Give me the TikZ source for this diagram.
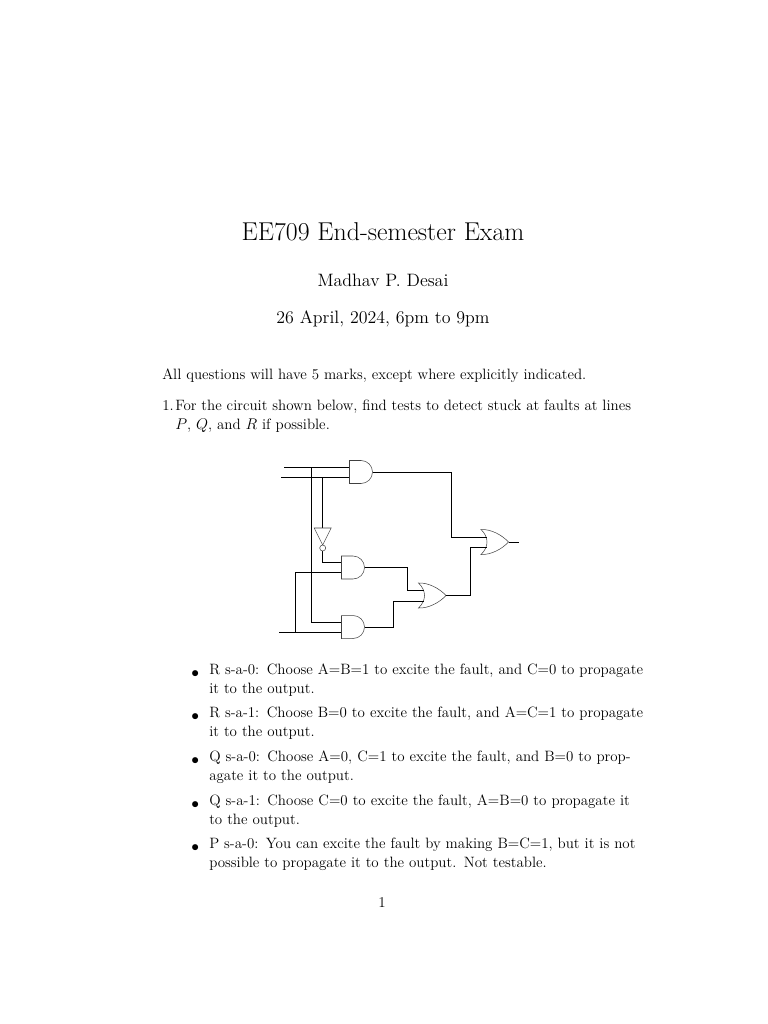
\documentclass[tikz,border=0pt]{standalone}
\newcommand{\bodyfont}{\fontsize{11.6}{14.4}\selectfont}
\newcommand{\fitline}[1]{\hbox to 324pt{#1}}
\tikzset{
  wire/.style={draw=black,line width=0.7pt,line join=miter},
  gateline/.style={draw=black!75,line width=0.4pt,fill=white},
  andgate/.pic={
    \path[gateline] (-11.5,-11.5) -- (0,-11.5) arc (-90:90:11.5) -- (-11.5,11.5) -- cycle;
    \coordinate (-in1) at (-11.5,-5);
    \coordinate (-in2) at (-11.5,5);
    \coordinate (-out) at (11.5,0);
  },
  orgate/.pic={
    \path[gateline] (0,-12.5) .. controls (10,-13) and (21,-7) .. (27.5,0) .. controls (21,7) and (10,13) .. (0,12.5) .. controls (8,5) and (8,-5) .. (0,-12.5) -- cycle;
    \coordinate (-in1) at (5.5,-5);
    \coordinate (-in2) at (5.5,5.5);
    \coordinate (-out) at (27.5,0);
  },
  invgate/.pic={
    \path[gateline] (-8.5,0) -- (8.5,0) -- (0,17) -- cycle;
    \path[gateline] (0,20) circle (3);
    \coordinate (-in) at (0,0);
    \coordinate (-out) at (0,23);
  },
  textline/.style={anchor=base west,inner sep=0pt,font=\bodyfont},
  bullettext/.style={anchor=north west,inner sep=0pt,text width=324pt,align=left,font=\bodyfont},
  centerline/.style={anchor=base,inner sep=0pt}
}
\begin{document}
\begin{tikzpicture}[x=0.775pt,y=-0.775pt]
\useasboundingbox (0,0) rectangle (768,1024);
\node[centerline,font=\fontsize{20}{24}\selectfont] (title) at (383,240) {EE709 End-semester Exam};
\node[centerline,font=\fontsize{13.9}{17}\selectfont] (author) at (383,286) {Madhav P. Desai};
\node[centerline,font=\fontsize{13.9}{17}\selectfont] (date) at (383,323) {26 April, 2024, 6pm to 9pm};
\node[textline] (intro) at (162,379) {All questions will have 5 marks, except where explicitly indicated.};
\node[textline] (qnum) at (162,410) {1.};
\node[textline] (qone) at (175,410) {For the circuit shown below, find tests to detect stuck at faults at lines};
\node[textline] (qtwo) at (175,429) {$P$, $Q$, and $R$ if possible.};

\draw[wire] (284,467) -- (349.5,467);
\draw[wire] (281,477) -- (349.5,477);
\draw[wire] (279,632) -- (341.5,632);
\draw[wire] (311.7,467) |- (341.5,622);
\draw[wire] (322.7,477) -- (322.7,528);
\draw[wire] (322.7,551) |- (341.5,562.5);
\draw[wire] (295.7,632) |- (341.5,572.5);

\pic (and1) at (361,472) {andgate};
\pic (and2) at (353,567.5) {andgate};
\pic (and3) at (353,627) {andgate};
\pic (or1) at (418.5,595.5) {orgate};
\pic (or2) at (481,542) {orgate};
\pic (inv) at (322.7,528) {invgate};
\coordinate (out) at (519,542);

\draw[wire] (and1-out) -| (451,537) -- (or2-in1);
\draw[wire] (and2-out) -| (407,590.5) -- (or1-in1);
\draw[wire] (and3-out) -| (393,601) -- (or1-in2);
\draw[wire] (or1-out) -| (470,547.5) -- (or2-in2);
\draw[wire] (or2-out) -- (out);

\node[textline] (b1) at (191,677) {$\bullet$};
\node[bullettext] (t1) at (209,664) {\fitline{R s-a-0: Choose A=B=1 to excite the fault, and C=0 to propagate}\\it to the output.};
\node[textline] (b2) at (191,720) {$\bullet$};
\node[bullettext] (t2) at (209,707) {\fitline{R s-a-1: Choose B=0 to excite the fault, and A=C=1 to propagate}\\it to the output.};
\node[textline] (b3) at (191,764) {$\bullet$};
\node[bullettext] (t3) at (209,751) {\fitline{Q s-a-0: Choose A=0, C=1 to excite the fault, and B=0 to prop-}\\agate it to the output.};
\node[textline] (b4) at (191,808) {$\bullet$};
\node[bullettext] (t4) at (209,795) {\fitline{Q s-a-1: Choose C=0 to excite the fault, A=B=0 to propagate it}\\to the output.};
\node[textline] (b5) at (191,851) {$\bullet$};
\node[bullettext] (t5) at (209,838) {\fitline{P s-a-0: You can excite the fault by making B=C=1, but it is not}\\possible to propagate it to the output. Not testable.};
\node[centerline,font=\bodyfont] (page) at (382,907) {1};
\end{tikzpicture}
\end{document}
